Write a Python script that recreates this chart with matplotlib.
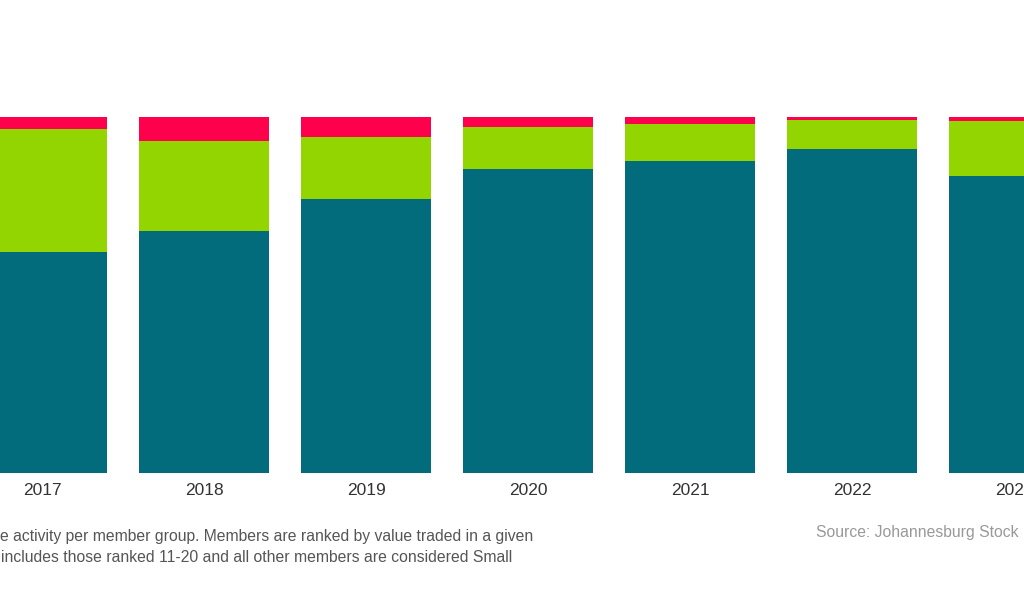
import matplotlib
matplotlib.use('Agg')
import matplotlib.pyplot as plt
import numpy as np

# ── Data (share of value traded, %) ───────────────────────────────────────────
years = ["2017", "2018", "2019", "2020", "2021", "2022", "2023"]
large = [62.1, 68.1, 76.9, 85.3, 87.7, 91.1, 83.5]
medium = [34.4, 25.2, 17.6, 12.0, 10.4, 8.0, 15.5]
small = [3.5, 6.7, 5.5, 2.7, 1.9, 0.9, 1.0]

TEAL = '#026C7C'
GREEN = '#93D500'
RED = '#FF004D'

plt.rcParams['font.family'] = ['Liberation Sans', 'DejaVu Sans']

W, H = 1024, 592
fig = plt.figure(figsize=(W / 100, H / 100), dpi=100)
fig.patch.set_facecolor('white')

# plot area (px): baseline at y=473, 100% at y=117
ax = fig.add_axes([0, (H - 473) / H, 1, 356 / H])
ax.set_facecolor('white')

x = np.arange(len(years))
large_a = np.array(large)
medium_a = np.array(medium)
small_a = np.array(small)

ax.bar(x, large_a, width=0.8, color=TEAL, edgecolor='none')
ax.bar(x, medium_a, width=0.8, bottom=large_a, color=GREEN, edgecolor='none')
ax.bar(x, small_a, width=0.8, bottom=large_a + medium_a, color=RED, edgecolor='none')

# bar centres at px 42 + 162*i (the reference is cropped on both sides)
ax.set_xlim(-42 / 162, (W - 42) / 162)
ax.set_ylim(0, 100)

ax.set_xticks(x)
ax.set_xticklabels(years, fontsize=12.5, color='#333333')
ax.tick_params(axis='x', length=0, pad=7)
ax.tick_params(axis='y', left=False, labelleft=False)
for spine in ax.spines.values():
    spine.set_visible(False)

# ── Footnote & source (cropped in the reference) ──────────────────────────────
fig.text(0 / W, 1 - 537 / H,
         "e activity per member group. Members are ranked by value traded in a given",
         ha='left', va='center', fontsize=11.3, color='#555555')
fig.text(1 / W, 1 - 558 / H,
         "includes those ranked 11-20 and all other members are considered Small",
         ha='left', va='center', fontsize=11.3, color='#555555')
fig.text(816 / W, 1 - 532 / H, "Source: Johannesburg Stock",
         ha='left', va='center', fontsize=11.3, color='#999999')

fig.savefig('out.png', dpi=100, facecolor='white')
